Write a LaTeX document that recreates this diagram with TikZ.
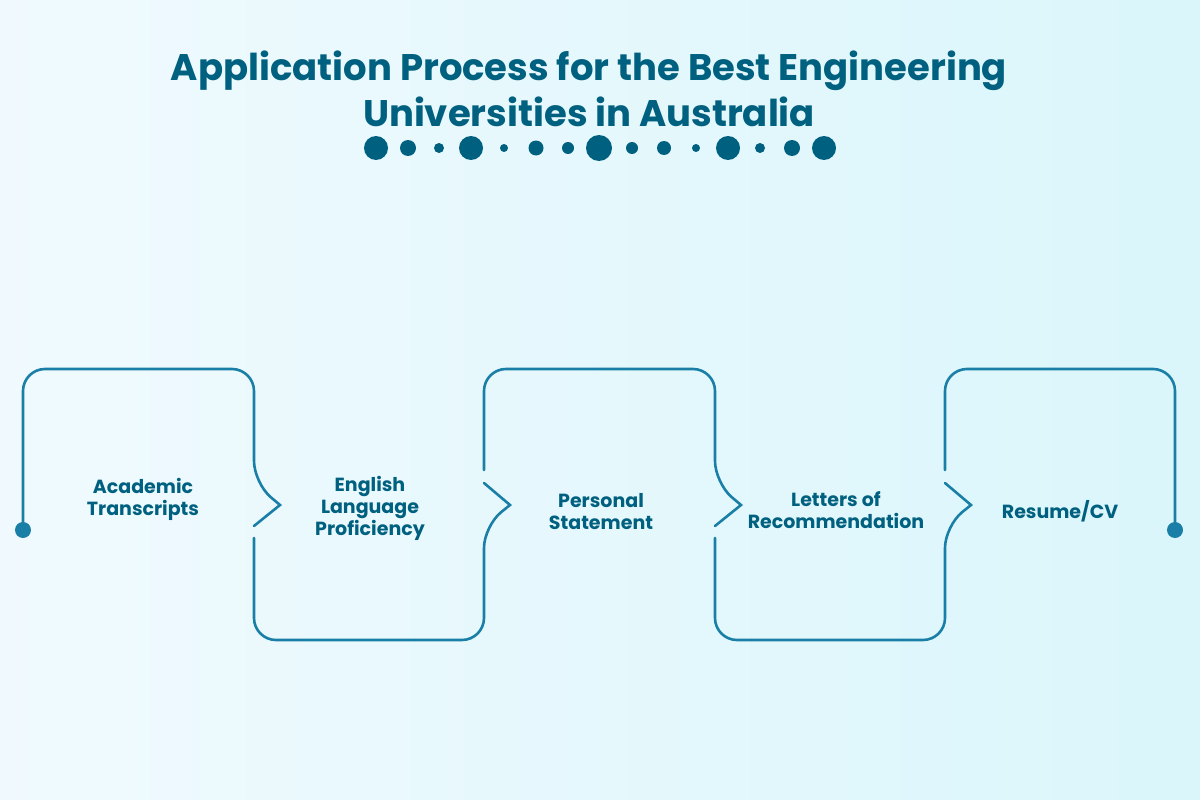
\documentclass[tikz,border=0pt]{standalone}
\usepackage{fontspec}
\setmainfont{Poppins}[BoldFont={* Bold}]
\begin{document}
\begin{tikzpicture}[x=1pt,y=-1pt,
  ln/.style={draw=lc,line width=2.6pt,rounded corners=22pt,line cap=round},
  lbl/.style={text=tc,font=\bfseries\fontsize{19}{22}\selectfont,align=center},
  dot/.style={fill=tc,circle,inner sep=0pt}]
\definecolor{lc}{HTML}{1A7FA6}
\definecolor{tc}{HTML}{00607F}
\shade[left color={rgb,255:red,240;green,250;blue,254},right color={rgb,255:red,218;green,246;blue,251}] (0,0) rectangle (1200,800);
\useasboundingbox (0,0) rectangle (1200,800);
\node[text=tc,font=\bfseries\fontsize{37}{46}\selectfont,align=center] (title) at (589,89) {Application Process for the Best Engineering\\Universities in Australia};
\foreach \x/\r [count=\i] in {376/12,408/8,439/5,471/12,504/4,536/7.5,568/6,599/13,632/6,664/7,696/4,728/12,760/5,792/8,824/12}
  \node[dot,minimum size=2*\r pt] (d\i) at (\x,148) {};
\coordinate (s) at (23,530);
\coordinate (e) at (1175,530);
\fill[lc] (s) circle (8);
\fill[lc] (e) circle (8);
% segment 1
\draw[ln] (s) -- (23,369) -- (254,369) -- (254,483) [sharp corners] -- (280,505) -- (254,526);
\draw[ln] (254,538) -- (254,640) -- (484,640) -- (484,526) [sharp corners] -- (510,505) -- (484,483);
\draw[ln] (484,470) -- (484,369) -- (715,369) -- (715,483) [sharp corners] -- (741,505) -- (715,526);
\draw[ln] (715,538) -- (715,640) -- (945,640) -- (945,526) [sharp corners] -- (971,505) -- (945,483);
\draw[ln] (945,470) -- (945,369) -- (1175,369) -- (e);
\node[lbl] (a) at (143,499) {Academic\\Transcripts};
\node[lbl] (b) at (370,508) {English\\Language\\Proficiency};
\node[lbl] (c) at (601,512) {Personal\\Statement};
\node[lbl] (d) at (836,510) {Letters of\\Recommendation};
\node[lbl] (f) at (1060,511) {Resume/CV};
\end{tikzpicture}
\end{document}
